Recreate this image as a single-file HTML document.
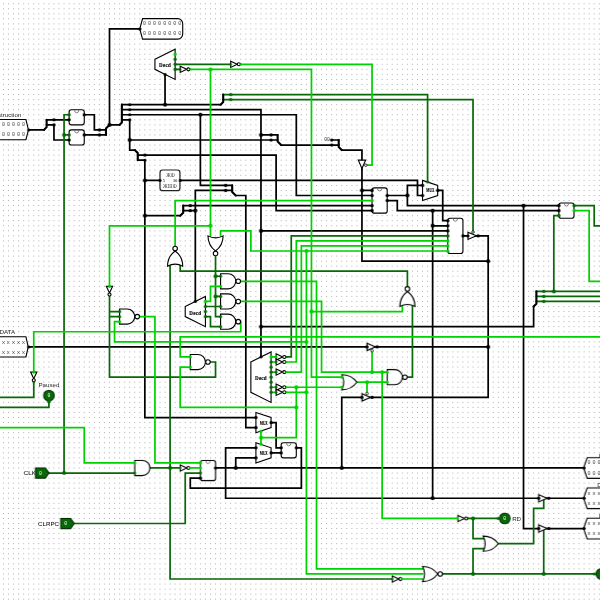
<!DOCTYPE html>
<html><head><meta charset="utf-8"><title>circuit</title>
<style>
html,body{margin:0;padding:0;background:#fff;}
body{width:600px;height:600px;overflow:hidden;font-family:"Liberation Sans",sans-serif;}
svg{display:block;}
.w{fill:none;stroke-linejoin:miter;stroke-linecap:square;}
</style></head><body>
<svg width="600" height="600" viewBox="0 0 600 600">
<rect width="600" height="600" fill="#fff"/>
<g stroke="#b0b0b0" stroke-width="1" stroke-dasharray="1 4.049" fill="none">
<path d="M2.97 3.75H600M2.97 8.8H600M2.97 13.84H600M2.97 18.89H600M2.97 23.93H600M2.97 28.98H600M2.97 34.03H600M2.97 39.07H600M2.97 44.12H600M2.97 49.16H600M2.97 54.21H600M2.97 59.26H600M2.97 64.3H600M2.97 69.35H600M2.97 74.39H600M2.97 79.44H600M2.97 84.49H600M2.97 89.53H600M2.97 94.58H600M2.97 99.62H600M2.97 104.67H600M2.97 109.72H600M2.97 114.76H600M2.97 119.81H600M2.97 124.85H600M2.97 129.9H600M2.97 134.95H600M2.97 139.99H600M2.97 145.04H600M2.97 150.08H600M2.97 155.13H600M2.97 160.18H600M2.97 165.22H600M2.97 170.27H600M2.97 175.31H600M2.97 180.36H600M2.97 185.41H600M2.97 190.45H600M2.97 195.5H600M2.97 200.54H600M2.97 205.59H600M2.97 210.64H600M2.97 215.68H600M2.97 220.73H600M2.97 225.77H600M2.97 230.82H600M2.97 235.87H600M2.97 240.91H600M2.97 245.96H600M2.97 251H600M2.97 256.05H600M2.97 261.1H600M2.97 266.14H600M2.97 271.19H600M2.97 276.23H600M2.97 281.28H600M2.97 286.33H600M2.97 291.37H600M2.97 296.42H600M2.97 301.46H600M2.97 306.51H600M2.97 311.56H600M2.97 316.6H600M2.97 321.65H600M2.97 326.69H600M2.97 331.74H600M2.97 336.79H600M2.97 341.83H600M2.97 346.88H600M2.97 351.92H600M2.97 356.97H600M2.97 362.02H600M2.97 367.06H600M2.97 372.11H600M2.97 377.15H600M2.97 382.2H600M2.97 387.25H600M2.97 392.29H600M2.97 397.34H600M2.97 402.38H600M2.97 407.43H600M2.97 412.48H600M2.97 417.52H600M2.97 422.57H600M2.97 427.61H600M2.97 432.66H600M2.97 437.71H600M2.97 442.75H600M2.97 447.8H600M2.97 452.84H600M2.97 457.89H600M2.97 462.94H600M2.97 467.98H600M2.97 473.03H600M2.97 478.07H600M2.97 483.12H600M2.97 488.17H600M2.97 493.21H600M2.97 498.26H600M2.97 503.3H600M2.97 508.35H600M2.97 513.4H600M2.97 518.44H600M2.97 523.49H600M2.97 528.53H600M2.97 533.58H600M2.97 538.63H600M2.97 543.67H600M2.97 548.72H600M2.97 553.76H600M2.97 558.81H600M2.97 563.86H600M2.97 568.9H600M2.97 573.95H600M2.97 578.99H600M2.97 584.04H600M2.97 589.09H600M2.97 594.13H600M2.97 599.18H600"/>
</g>
<g transform="translate(3.47 3.75) scale(5.049 5.046)">
<path class="w" stroke="#000" stroke-width="0.34" d="M21 5 L27 5 M21 5 L21 24 M5 25 L8 25 M8.55 23 L10 23 M8.55 24 L10 24 M10 23 L13 23 M10 24 L10 27 L13 27 M16 22 L18 22 L18 25 L19 25 M16 26 L19 26 M20.3 25 L19 25 M20.3 26 L19 26 M21 24 L23 24 M23.45 20 L25 20 M23.45 21 L25 21 M23.45 22 L25 22 M23.45 23 L25 23 M25 20 L43 20 M32 14 L32 20 M25 21 L51 21 L51 70 M25 22 L58 22 L58 38 L73 38 M39 22 L39 36 L44 36 M25 23 L25 29 L26 29 M25 27 L53 27 M26.6 30 L28 30 M26.6 31 L28 31 M28 30 L54 30 L54 41 L73 41 M28 31 L28 82 L50 82 M28 35 L31 35 M35 35 L82 35 L82 38 L83 38 M28 42 L35 42 M35.6 40 L37 40 M35.6 41 L37 41 M37 41 L38 41 M37 40 L73 40 M44 37 L38 37 L38 59 M45.3 36 L44 36 M45.3 37 L44 37 M46 38 L48 38 L48 84 L50 84 M51 26 L53 26 M54.3 26 L53 26 M54.3 27 L53 27 M55 28 L65 28 M66.4 27 L65 27 M66.4 28 L65 28 M67 29 L71 29 L71 31 M71 33 L71 51 L96 51 M71 37 L73 37 M5 68 L72 68 M74 68 L96 68 M94 46 L96 46 L96 78 L73 78 M53 83 L54 83 L54 88 L55 88 M53 89 L55 89 M58 88 L59 88 L59 96 L37 96 L37 94 L39 94 M50 88 L44 88 L44 98 L106 98 M50 90 L46 90 L46 92 M42 92 L115 92 M71 78 L67 78 L67 92 M76 38 L80 38 M83 36 L80 36 L80 40 L110 40 M76 39 L78 39 L78 41 L110 41 M86 37 L87 37 L87 43 L88 43 M85 41 L85 98 M85 44 L88 44 M51 45 L88 45 M91 46 L92 46 M103 40 L103 104 L106 104 M51 64 L105 64 L105 60 M108 98 L115 98 M108 104 L115 104"/>
<path class="w" stroke="#076a07" stroke-width="0.34" d="M13 22 L12 22 L12 93 M12 26 L13 26 M43.52 18 L45 18 M43.52 19 L45 19 M45 18 L84 18 L84 35.3 M45 19 L93 19 L93 45 M34 12 L45 12 M34 13 L35 13 M21 58 L21 74 L42 74 L42 71 L41 71 M21 61 L23 61 M21 62 L23 62 M33 52 L33 114 L77 114 M35 52 L35 53 L80 53 L80 56 M42 50 L42 62 L43 62 M42 54 L43 54 M42 58 L43 58 M6 75 L6 78 L-2 78 M40 60 L43 60 M40 62 L41 62 L41 64 L43 64 M56 70 L57 70 L57 46 L88 46 M9 93 L26 93 M29 92 L35 92 M14 103 L36 103 L36 93 L39 93 M-2 80 L9 80 L9 79 M110 42 L109 42 L109 57 M113 40 L117 40 L117 44 L120 44 M105.55 57 L107 57 M105.55 58 L107 58 M105.55 59 L107 59 M107 57 L120 57 M107 58 L120 58 M107 59 L120 59 M81 60 L81 74 L80 74 M92 102 L98 102 M93 102 L93 106 L95 106 M95 108 L93 108 L93 113 M98 107 L105 107 L105 100 L107 100 L107 98.45 M107 104.45 L107 113 M87 113 L117 113"/>
<path class="w" stroke="#00d200" stroke-width="0.34" d="M47 12 L73 12 L73 32 L72 32 M37 13 L61 13 L61 74 L67 74 M41 13 L41 46 M41 44 L21 44 L21 56 M23 63 L22 63 L22 67 L60 67 M27 62 L30 62 L30 91 L39 91 M34 48 L34 39 L73 39 M43 46 L43 45 L49 45 L49 49 L88 49 M60 49 L60 113 L83 113 M47 55 L62 55 L62 112 L83 112 M47 59 L63 59 L63 73 L76 73 M47 63 L47 65 L6 65 L6 73 M40 59 L41 59 L41 56 L43 56 M37 70 L35 70 L35 66 L120 66 M37 72 L35 72 L35 80 L58 80 M73 69 L73 73 M75 73 L75 102 L90 102 M70 75 L76 75 M72 75 L72 77 M53 70 L54 70 M53 71 L54 71 M53 73 L54 73 M53 76 L54 76 M53 77 L54 77 M56 71 L58 71 L58 47 L88 47 M56 73 L59 73 L59 48 L88 48 M56 76 L67 76 M58 76 L58 86 L51 86 M51 84.7 L51 87.3 M56 77 L60 77 M-2 84 L16 84 L16 91 L26 91 M37 92 L39 92 M113 41 L116 41 L116 55 L120 55 M79 60 L79 61 L61 61 M79 114 L83 114"/>
<path class="w" stroke="#000" stroke-width="0.42" style="stroke-linecap:round;stroke-linejoin:round" d="M8 25 L8.55 24.45 L8.55 23 M21 24 L20.3 24.7 L20.3 26 M23 24 L23.45 23.55 L23.45 20 M43 20 L43.52 19.48 L43.52 18 M26 29 L26.6 29.6 L26.6 31 M35 42 L35.6 41.4 L35.6 40 M46 38 L45.3 37.3 L45.3 36 M55 28 L54.3 27.3 L54.3 26 M67 29 L66.4 28.4 L66.4 27 M105 60 L105.55 59.45 L105.55 57"/>
<g style="will-change:opacity" opacity="0.999">
<text x="6.42" y="93.43" font-size="1.23" text-anchor="end" fill="#000" font-family="'Liberation Sans'">CLK</text>
<text x="11" y="103.43" font-size="1.23" text-anchor="end" fill="#000" font-family="'Liberation Sans'">CLRPC</text>
</g>
<g>
<path d="M27 5 L27.55 2.95 L34.5 2.95 A1 1 0 0 1 35.5 3.95 L35.5 6 A1 1 0 0 1 34.5 7 L27.55 7 Z" stroke="#000" fill="#fff" stroke-width="0.22" />
<path d="M-4 22.95 L4.45 22.95 L4.95 25 L4.45 26.95 L-4 26.95" stroke="#000" fill="#fff" stroke-width="0.22" />
<path d="M-4 66 L4.45 66 L4.9 68 L4.45 70 L-4 70" stroke="#000" fill="#fff" stroke-width="0.22" />
<rect x="13" y="21" width="3" height="3" rx="0.45" ry="0.45" stroke="#000" fill="#fff" stroke-width="0.22"/>
<path d="M14.08 21.1 A0.42 0.5 0 0 0 14.92 21.1" stroke="#666" fill="none" stroke-width="0.16"/>
<rect x="13" y="25" width="3" height="3" rx="0.45" ry="0.45" stroke="#000" fill="#fff" stroke-width="0.22"/>
<path d="M14.08 25.1 A0.42 0.5 0 0 0 14.92 25.1" stroke="#666" fill="none" stroke-width="0.16"/>
<path d="M30 11 L34 9 L34 15 L30 13 Z" stroke="#000" fill="#fff" stroke-width="0.22" />
<g transform="translate(47 12) rotate(0)"><path d="M-2 -0.62 L-0.7 0 L-2 0.62 Z" stroke="#000" fill="#fff" stroke-width="0.22"/><circle cx="-0.38" cy="0" r="0.3" stroke="#000" fill="#fff" stroke-width="0.22"/></g>
<g transform="translate(37 13) rotate(0)"><path d="M-2 -0.62 L-0.7 0 L-2 0.62 Z" stroke="#000" fill="#fff" stroke-width="0.22"/><circle cx="-0.38" cy="0" r="0.3" stroke="#000" fill="#fff" stroke-width="0.22"/></g>
<rect x="31" y="32.95" width="3.95" height="4.1" rx="0.55" ry="0.55" stroke="#222" fill="#fff" stroke-width="0.24"/>
<g transform="translate(71 33) rotate(90)"><path d="M-0.6 0 L0 0" stroke="#000" stroke-width="0.34" fill="none"/><path d="M-2 -0.72 L-0.35 0 L-2 0.72 Z" stroke="#000" fill="#fff" stroke-width="0.22"/><circle cx="-1" cy="-0.76" r="0.25" stroke="#000" fill="#fff" stroke-width="0.16"/></g>
<rect x="73" y="36.5" width="3" height="5" rx="0.45" ry="0.45" stroke="#000" fill="#fff" stroke-width="0.22"/>
<path d="M74.08 36.6 A0.42 0.5 0 0 0 74.92 36.6" stroke="#666" fill="none" stroke-width="0.16"/>
<path d="M83 35 L86 36 L86 38 L83 39 Z" stroke="#000" fill="#fff" stroke-width="0.22" />
<rect x="88" y="42.5" width="3" height="7" rx="0.45" ry="0.45" stroke="#000" fill="#fff" stroke-width="0.22"/>
<path d="M89.08 42.6 A0.42 0.5 0 0 0 89.92 42.6" stroke="#666" fill="none" stroke-width="0.16"/>
<g transform="translate(94 46) rotate(0)"><path d="M-0.6 0 L0 0" stroke="#000" stroke-width="0.34" fill="none"/><path d="M-2 -0.72 L-0.35 0 L-2 0.72 Z" stroke="#000" fill="#fff" stroke-width="0.22"/><circle cx="-1" cy="-0.76" r="0.25" stroke="#000" fill="#fff" stroke-width="0.16"/></g>
<rect x="110" y="39.5" width="3" height="3" rx="0.45" ry="0.45" stroke="#000" fill="#fff" stroke-width="0.22"/>
<path d="M111.08 39.6 A0.42 0.5 0 0 0 111.92 39.6" stroke="#666" fill="none" stroke-width="0.16"/>
<g transform="translate(21 58) rotate(90)"><path d="M-2 -0.62 L-0.7 0 L-2 0.62 Z" stroke="#000" fill="#fff" stroke-width="0.22"/><circle cx="-0.38" cy="0" r="0.3" stroke="#000" fill="#fff" stroke-width="0.22"/></g>
<g transform="translate(27 62) rotate(0)"><path d="M-4 -1.5 L-2.5 -1.5 A1.5 1.5 0 0 1 -2.5 1.5 L-4 1.5 Z" stroke="#000" fill="#fff" stroke-width="0.22"/><circle cx="-0.5" cy="0" r="0.45" stroke="#000" fill="#fff" stroke-width="0.22"/></g>
<g transform="translate(34 48) rotate(270)"><path d="M-4 -1.5 Q-2.1 -1.5 -1 0 Q-2.1 1.5 -4 1.5 Q-3.2 0 -4 -1.5 Z" stroke="#000" fill="#fff" stroke-width="0.22"/><circle cx="-0.5" cy="0" r="0.45" stroke="#000" fill="#fff" stroke-width="0.22"/></g>
<g transform="translate(42 50) rotate(90)"><path d="M-4 -1.5 Q-2.1 -1.5 -1 0 Q-2.1 1.5 -4 1.5 Q-3.2 0 -4 -1.5 Z" stroke="#000" fill="#fff" stroke-width="0.22"/><circle cx="-0.5" cy="0" r="0.45" stroke="#000" fill="#fff" stroke-width="0.22"/></g>
<g transform="translate(47 55) rotate(0)"><path d="M-4 -1.5 L-2.5 -1.5 A1.5 1.5 0 0 1 -2.5 1.5 L-4 1.5 Z" stroke="#000" fill="#fff" stroke-width="0.22"/><circle cx="-0.5" cy="0" r="0.45" stroke="#000" fill="#fff" stroke-width="0.22"/></g>
<g transform="translate(47 59) rotate(0)"><path d="M-4 -1.5 L-2.5 -1.5 A1.5 1.5 0 0 1 -2.5 1.5 L-4 1.5 Z" stroke="#000" fill="#fff" stroke-width="0.22"/><circle cx="-0.5" cy="0" r="0.45" stroke="#000" fill="#fff" stroke-width="0.22"/></g>
<g transform="translate(47 63) rotate(0)"><path d="M-4 -1.5 L-2.5 -1.5 A1.5 1.5 0 0 1 -2.5 1.5 L-4 1.5 Z" stroke="#000" fill="#fff" stroke-width="0.22"/><circle cx="-0.5" cy="0" r="0.45" stroke="#000" fill="#fff" stroke-width="0.22"/></g>
<path d="M36 60 L40 58 L40 64 L36 62 Z" stroke="#000" fill="#fff" stroke-width="0.22" />
<g transform="translate(41 71) rotate(0)"><path d="M-4 -1.5 L-2.5 -1.5 A1.5 1.5 0 0 1 -2.5 1.5 L-4 1.5 Z" stroke="#000" fill="#fff" stroke-width="0.22"/><circle cx="-0.5" cy="0" r="0.45" stroke="#000" fill="#fff" stroke-width="0.22"/></g>
<g transform="translate(6 75) rotate(90)"><path d="M-2 -0.62 L-0.7 0 L-2 0.62 Z" stroke="#000" fill="#fff" stroke-width="0.22"/><circle cx="-0.38" cy="0" r="0.3" stroke="#000" fill="#fff" stroke-width="0.22"/></g>
<path d="M49 71 L53 69 L53 79 L49 77 Z" stroke="#000" fill="#fff" stroke-width="0.22" />
<g transform="translate(56 70) rotate(0)"><path d="M-2 -0.62 L-0.7 0 L-2 0.62 Z" stroke="#000" fill="#fff" stroke-width="0.22"/><circle cx="-0.38" cy="0" r="0.3" stroke="#000" fill="#fff" stroke-width="0.22"/></g>
<g transform="translate(56 71) rotate(0)"><path d="M-2 -0.62 L-0.7 0 L-2 0.62 Z" stroke="#000" fill="#fff" stroke-width="0.22"/><circle cx="-0.38" cy="0" r="0.3" stroke="#000" fill="#fff" stroke-width="0.22"/></g>
<g transform="translate(56 73) rotate(0)"><path d="M-2 -0.62 L-0.7 0 L-2 0.62 Z" stroke="#000" fill="#fff" stroke-width="0.22"/><circle cx="-0.38" cy="0" r="0.3" stroke="#000" fill="#fff" stroke-width="0.22"/></g>
<g transform="translate(56 76) rotate(0)"><path d="M-2 -0.62 L-0.7 0 L-2 0.62 Z" stroke="#000" fill="#fff" stroke-width="0.22"/><circle cx="-0.38" cy="0" r="0.3" stroke="#000" fill="#fff" stroke-width="0.22"/></g>
<g transform="translate(56 77) rotate(0)"><path d="M-2 -0.62 L-0.7 0 L-2 0.62 Z" stroke="#000" fill="#fff" stroke-width="0.22"/><circle cx="-0.38" cy="0" r="0.3" stroke="#000" fill="#fff" stroke-width="0.22"/></g>
<path d="M50 81 L53 82 L53 84 L50 85 Z" stroke="#000" fill="#fff" stroke-width="0.22" />
<path d="M50 87 L53 88 L53 90 L50 91 Z" stroke="#000" fill="#fff" stroke-width="0.22" />
<rect x="55" y="87" width="3" height="3" rx="0.45" ry="0.45" stroke="#000" fill="#fff" stroke-width="0.22"/>
<path d="M56.08 87.1 A0.42 0.5 0 0 0 56.92 87.1" stroke="#666" fill="none" stroke-width="0.16"/>
<g transform="translate(29 92) rotate(0)"><path d="M-3 -1.5 L-1.5 -1.5 A1.5 1.5 0 0 1 -1.5 1.5 L-3 1.5 Z" stroke="#000" fill="#fff" stroke-width="0.22"/></g>
<g transform="translate(37 92) rotate(0)"><path d="M-2 -0.62 L-0.7 0 L-2 0.62 Z" stroke="#000" fill="#fff" stroke-width="0.22"/><circle cx="-0.38" cy="0" r="0.3" stroke="#000" fill="#fff" stroke-width="0.22"/></g>
<rect x="39" y="90.5" width="3" height="4" rx="0.45" ry="0.45" stroke="#000" fill="#fff" stroke-width="0.22"/>
<path d="M40.08 90.6 A0.42 0.5 0 0 0 40.92 90.6" stroke="#666" fill="none" stroke-width="0.16"/>
<g transform="translate(74 68) rotate(0)"><path d="M-0.6 0 L0 0" stroke="#000" stroke-width="0.34" fill="none"/><path d="M-2 -0.72 L-0.35 0 L-2 0.72 Z" stroke="#000" fill="#fff" stroke-width="0.22"/><circle cx="-1" cy="0.76" r="0.25" stroke="#000" fill="#fff" stroke-width="0.16"/></g>
<g transform="translate(73 78) rotate(0)"><path d="M-0.6 0 L0 0" stroke="#000" stroke-width="0.34" fill="none"/><path d="M-2 -0.72 L-0.35 0 L-2 0.72 Z" stroke="#000" fill="#fff" stroke-width="0.22"/><circle cx="-1" cy="-0.76" r="0.25" stroke="#000" fill="#fff" stroke-width="0.16"/></g>
<g transform="translate(70 75) rotate(0)"><path d="M-3 -1.5 Q-1.1 -1.5 0 0 Q-1.1 1.5 -3 1.5 Q-2.2 0 -3 -1.5 Z" stroke="#000" fill="#fff" stroke-width="0.22"/></g>
<g transform="translate(80 74) rotate(0)"><path d="M-4 -1.5 L-2.5 -1.5 A1.5 1.5 0 0 1 -2.5 1.5 L-4 1.5 Z" stroke="#000" fill="#fff" stroke-width="0.22"/><circle cx="-0.5" cy="0" r="0.45" stroke="#000" fill="#fff" stroke-width="0.22"/></g>
<g transform="translate(80 56) rotate(270)"><path d="M-4 -1.5 Q-2.1 -1.5 -1 0 Q-2.1 1.5 -4 1.5 Q-3.2 0 -4 -1.5 Z" stroke="#000" fill="#fff" stroke-width="0.22"/><circle cx="-0.5" cy="0" r="0.45" stroke="#000" fill="#fff" stroke-width="0.22"/></g>
<g transform="translate(92 102) rotate(0)"><path d="M-2 -0.62 L-0.7 0 L-2 0.62 Z" stroke="#000" fill="#fff" stroke-width="0.22"/><circle cx="-0.38" cy="0" r="0.3" stroke="#000" fill="#fff" stroke-width="0.22"/></g>
<g transform="translate(98 107) rotate(0)"><path d="M-3 -1.5 Q-1.1 -1.5 0 0 Q-1.1 1.5 -3 1.5 Q-2.2 0 -3 -1.5 Z" stroke="#000" fill="#fff" stroke-width="0.22"/></g>
<g transform="translate(87 113) rotate(0)"><path d="M-4 -1.5 Q-2.1 -1.5 -1 0 Q-2.1 1.5 -4 1.5 Q-3.2 0 -4 -1.5 Z" stroke="#000" fill="#fff" stroke-width="0.22"/><circle cx="-0.5" cy="0" r="0.45" stroke="#000" fill="#fff" stroke-width="0.22"/></g>
<g transform="translate(79 114) rotate(0)"><path d="M-2 -0.62 L-0.7 0 L-2 0.62 Z" stroke="#000" fill="#fff" stroke-width="0.22"/><circle cx="-0.38" cy="0" r="0.3" stroke="#000" fill="#fff" stroke-width="0.22"/></g>
<g transform="translate(108 98) rotate(0)"><path d="M-0.6 0 L0 0" stroke="#000" stroke-width="0.34" fill="none"/><path d="M-2 -0.72 L-0.35 0 L-2 0.72 Z" stroke="#000" fill="#fff" stroke-width="0.22"/></g>
<g transform="translate(108 104) rotate(0)"><path d="M-0.6 0 L0 0" stroke="#000" stroke-width="0.34" fill="none"/><path d="M-2 -0.72 L-0.35 0 L-2 0.72 Z" stroke="#000" fill="#fff" stroke-width="0.22"/></g>
<path d="M121 89.95 L115.6 89.95 L114.9 92 L115.6 94.05 L121 94.05" stroke="#000" fill="#fff" stroke-width="0.22" />
<path d="M121 95.95 L115.6 95.95 L114.9 98 L115.6 100.05 L121 100.05" stroke="#000" fill="#fff" stroke-width="0.22" />
<path d="M121 101.95 L115.6 101.95 L114.9 104 L115.6 106.05 L121 106.05" stroke="#000" fill="#fff" stroke-width="0.22" />
<rect x="7.96" y="76.61" width="2.08" height="2.08" rx="0.98" ry="0.98" fill="#076a07" stroke="#002800" stroke-width="0.2"/>
<rect x="98.24" y="100.96" width="2.08" height="2.08" rx="0.98" ry="0.98" fill="#076a07" stroke="#002800" stroke-width="0.2"/>
<rect x="117.38" y="111.96" width="2.08" height="2.08" rx="0.98" ry="0.98" fill="#076a07" stroke="#002800" stroke-width="0.2"/>
<path d="M6.35 92 L8.3 92 L9 93 L8.3 94 L6.35 94 Z" stroke="#002800" fill="#076a07" stroke-width="0.22" />
<path d="M11.35 102 L13.3 102 L14 103 L13.3 104 L11.35 104 Z" stroke="#002800" fill="#076a07" stroke-width="0.22" />
</g>
<g>
<circle cx="12" cy="26" r="0.4" fill="#076a07"/>
<circle cx="19" cy="25" r="0.33" fill="#000"/>
<circle cx="19" cy="26" r="0.33" fill="#000"/>
<circle cx="10" cy="23" r="0.33" fill="#000"/>
<circle cx="10" cy="24" r="0.33" fill="#000"/>
<circle cx="28" cy="30" r="0.33" fill="#000"/>
<circle cx="21" cy="24" r="0.4" fill="#000"/>
<circle cx="25" cy="20" r="0.3" fill="#000"/>
<circle cx="25" cy="21" r="0.3" fill="#000"/>
<circle cx="25" cy="22" r="0.3" fill="#000"/>
<circle cx="25" cy="23" r="0.3" fill="#000"/>
<circle cx="32" cy="20" r="0.4" fill="#000"/>
<circle cx="45" cy="18" r="0.33" fill="#076a07"/>
<circle cx="45" cy="19" r="0.33" fill="#076a07"/>
<circle cx="51" cy="26" r="0.4" fill="#000"/>
<circle cx="51" cy="45" r="0.4" fill="#000"/>
<circle cx="51" cy="64" r="0.4" fill="#000"/>
<circle cx="39" cy="22" r="0.4" fill="#000"/>
<circle cx="25" cy="27" r="0.4" fill="#000"/>
<circle cx="28" cy="31" r="0.3" fill="#000"/>
<circle cx="28" cy="35" r="0.4" fill="#000"/>
<circle cx="28" cy="42" r="0.4" fill="#000"/>
<circle cx="37" cy="40" r="0.33" fill="#000"/>
<circle cx="37" cy="41" r="0.33" fill="#000"/>
<circle cx="38" cy="41" r="0.4" fill="#000"/>
<circle cx="44" cy="36" r="0.33" fill="#000"/>
<circle cx="44" cy="37" r="0.33" fill="#000"/>
<circle cx="53" cy="26" r="0.33" fill="#000"/>
<circle cx="53" cy="27" r="0.33" fill="#000"/>
<circle cx="65" cy="27" r="0.33" fill="#000"/>
<circle cx="65" cy="28" r="0.33" fill="#000"/>
<circle cx="71" cy="37" r="0.4" fill="#000"/>
<circle cx="41" cy="13" r="0.4" fill="#00d200"/>
<circle cx="41" cy="44" r="0.4" fill="#00d200"/>
<circle cx="61" cy="61" r="0.4" fill="#00d200"/>
<circle cx="33" cy="92" r="0.4" fill="#076a07"/>
<circle cx="60" cy="49" r="0.4" fill="#00d200"/>
<circle cx="60" cy="67" r="0.4" fill="#00d200"/>
<circle cx="60" cy="77" r="0.4" fill="#00d200"/>
<circle cx="42" cy="54" r="0.4" fill="#076a07"/>
<circle cx="42" cy="58" r="0.4" fill="#076a07"/>
<circle cx="73" cy="73" r="0.4" fill="#00d200"/>
<circle cx="75" cy="73" r="0.4" fill="#00d200"/>
<circle cx="96" cy="51" r="0.4" fill="#000"/>
<circle cx="96" cy="68" r="0.4" fill="#000"/>
<circle cx="72" cy="75" r="0.4" fill="#00d200"/>
<circle cx="58" cy="76" r="0.4" fill="#00d200"/>
<circle cx="58" cy="80" r="0.4" fill="#00d200"/>
<circle cx="51" cy="86" r="0.4" fill="#00d200"/>
<circle cx="85" cy="98" r="0.4" fill="#000"/>
<circle cx="46" cy="92" r="0.4" fill="#000"/>
<circle cx="67" cy="92" r="0.4" fill="#000"/>
<circle cx="12" cy="93" r="0.4" fill="#076a07"/>
<circle cx="80" cy="38" r="0.4" fill="#000"/>
<circle cx="103" cy="40" r="0.4" fill="#000"/>
<circle cx="85" cy="41" r="0.4" fill="#000"/>
<circle cx="85" cy="44" r="0.4" fill="#000"/>
<circle cx="109" cy="57" r="0.4" fill="#076a07"/>
<circle cx="107" cy="57" r="0.33" fill="#076a07"/>
<circle cx="107" cy="58" r="0.33" fill="#076a07"/>
<circle cx="107" cy="59" r="0.33" fill="#076a07"/>
<circle cx="93" cy="102" r="0.4" fill="#076a07"/>
<circle cx="93" cy="113" r="0.4" fill="#076a07"/>
<circle cx="107" cy="113" r="0.4" fill="#076a07"/>
<circle cx="27" cy="5" r="0.32" fill="#000"/>
<circle cx="5" cy="25" r="0.3" fill="#000"/>
<circle cx="5" cy="68" r="0.3" fill="#000"/>
<circle cx="13" cy="22" r="0.33" fill="#076a07"/>
<circle cx="13" cy="23" r="0.33" fill="#000"/>
<circle cx="13" cy="26" r="0.33" fill="#076a07"/>
<circle cx="13" cy="27" r="0.33" fill="#000"/>
<circle cx="16" cy="22" r="0.33" fill="#000"/>
<circle cx="16" cy="26" r="0.33" fill="#000"/>
<circle cx="34" cy="10" r="0.33" fill="#00d200"/>
<circle cx="34" cy="11" r="0.33" fill="#076a07"/>
<circle cx="34" cy="12" r="0.33" fill="#076a07"/>
<circle cx="34" cy="13" r="0.33" fill="#076a07"/>
<circle cx="32" cy="14" r="0.3" fill="#000"/>
<circle cx="31" cy="35" r="0.3" fill="#000"/>
<circle cx="35" cy="35" r="0.3" fill="#000"/>
<circle cx="73" cy="37" r="0.33" fill="#000"/>
<circle cx="73" cy="38" r="0.33" fill="#000"/>
<circle cx="73" cy="39" r="0.33" fill="#00d200"/>
<circle cx="73" cy="40" r="0.33" fill="#000"/>
<circle cx="73" cy="41" r="0.33" fill="#000"/>
<circle cx="76" cy="38" r="0.33" fill="#000"/>
<circle cx="76" cy="39" r="0.33" fill="#000"/>
<circle cx="83" cy="36" r="0.33" fill="#000"/>
<circle cx="83" cy="38" r="0.33" fill="#000"/>
<circle cx="86" cy="37" r="0.33" fill="#000"/>
<circle cx="84" cy="35.3" r="0.3" fill="#076a07"/>
<circle cx="88" cy="43" r="0.33" fill="#000"/>
<circle cx="88" cy="44" r="0.33" fill="#000"/>
<circle cx="88" cy="45" r="0.33" fill="#000"/>
<circle cx="88" cy="46" r="0.33" fill="#076a07"/>
<circle cx="88" cy="47" r="0.33" fill="#00d200"/>
<circle cx="88" cy="48" r="0.33" fill="#00d200"/>
<circle cx="88" cy="49" r="0.33" fill="#00d200"/>
<circle cx="91" cy="46" r="0.33" fill="#000"/>
<circle cx="94" cy="46" r="0.33" fill="#000"/>
<circle cx="92" cy="46" r="0.3" fill="#000"/>
<circle cx="110" cy="40" r="0.33" fill="#000"/>
<circle cx="110" cy="41" r="0.33" fill="#000"/>
<circle cx="110" cy="42" r="0.33" fill="#076a07"/>
<circle cx="113" cy="40" r="0.33" fill="#076a07"/>
<circle cx="113" cy="41" r="0.33" fill="#00d200"/>
<circle cx="21" cy="56" r="0.3" fill="#00d200"/>
<circle cx="23" cy="61" r="0.3" fill="#076a07"/>
<circle cx="23" cy="62" r="0.3" fill="#076a07"/>
<circle cx="23" cy="63" r="0.3" fill="#00d200"/>
<circle cx="43" cy="54" r="0.3" fill="#076a07"/>
<circle cx="43" cy="56" r="0.3" fill="#00d200"/>
<circle cx="43" cy="58" r="0.3" fill="#076a07"/>
<circle cx="43" cy="60" r="0.3" fill="#076a07"/>
<circle cx="43" cy="62" r="0.3" fill="#076a07"/>
<circle cx="43" cy="64" r="0.3" fill="#076a07"/>
<circle cx="40" cy="59" r="0.33" fill="#00d200"/>
<circle cx="40" cy="60" r="0.33" fill="#076a07"/>
<circle cx="40" cy="61" r="0.33" fill="#076a07"/>
<circle cx="40" cy="62" r="0.33" fill="#076a07"/>
<circle cx="38" cy="59" r="0.3" fill="#000"/>
<circle cx="37" cy="70" r="0.3" fill="#00d200"/>
<circle cx="37" cy="72" r="0.3" fill="#00d200"/>
<circle cx="6" cy="73" r="0.3" fill="#00d200"/>
<circle cx="6" cy="75" r="0.22" fill="#076a07"/>
<circle cx="53" cy="70" r="0.33" fill="#00d200"/>
<circle cx="53" cy="71" r="0.33" fill="#076a07"/>
<circle cx="53" cy="72" r="0.33" fill="#076a07"/>
<circle cx="53" cy="73" r="0.33" fill="#076a07"/>
<circle cx="53" cy="74" r="0.33" fill="#076a07"/>
<circle cx="53" cy="75" r="0.33" fill="#076a07"/>
<circle cx="53" cy="76" r="0.33" fill="#076a07"/>
<circle cx="53" cy="77" r="0.33" fill="#076a07"/>
<circle cx="51" cy="70" r="0.3" fill="#000"/>
<circle cx="50" cy="82" r="0.33" fill="#000"/>
<circle cx="50" cy="84" r="0.33" fill="#000"/>
<circle cx="53" cy="83" r="0.33" fill="#000"/>
<circle cx="50" cy="88" r="0.33" fill="#000"/>
<circle cx="50" cy="90" r="0.33" fill="#000"/>
<circle cx="53" cy="89" r="0.33" fill="#000"/>
<circle cx="51" cy="84.7" r="0.3" fill="#00d200"/>
<circle cx="51" cy="87.3" r="0.3" fill="#00d200"/>
<circle cx="55" cy="88" r="0.33" fill="#000"/>
<circle cx="55" cy="89" r="0.33" fill="#000"/>
<circle cx="58" cy="88" r="0.33" fill="#000"/>
<circle cx="26" cy="91" r="0.3" fill="#00d200"/>
<circle cx="26" cy="93" r="0.3" fill="#076a07"/>
<circle cx="39" cy="91" r="0.33" fill="#00d200"/>
<circle cx="39" cy="92" r="0.33" fill="#00d200"/>
<circle cx="39" cy="93" r="0.33" fill="#076a07"/>
<circle cx="39" cy="94" r="0.33" fill="#000"/>
<circle cx="42" cy="92" r="0.33" fill="#000"/>
<circle cx="72" cy="68" r="0.33" fill="#000"/>
<circle cx="74" cy="68" r="0.33" fill="#000"/>
<circle cx="71" cy="78" r="0.33" fill="#000"/>
<circle cx="73" cy="78" r="0.33" fill="#000"/>
<circle cx="67" cy="74" r="0.3" fill="#00d200"/>
<circle cx="67" cy="76" r="0.3" fill="#00d200"/>
<circle cx="76" cy="73" r="0.3" fill="#00d200"/>
<circle cx="76" cy="75" r="0.3" fill="#00d200"/>
<circle cx="106" cy="98" r="0.33" fill="#000"/>
<circle cx="108" cy="98" r="0.33" fill="#000"/>
<circle cx="106" cy="104" r="0.33" fill="#000"/>
<circle cx="108" cy="104" r="0.33" fill="#000"/>
<circle cx="45" cy="12" r="0.24" fill="#076a07"/>
<circle cx="47" cy="12" r="0.22" fill="#00d200"/>
<circle cx="35" cy="13" r="0.24" fill="#076a07"/>
<circle cx="37" cy="13" r="0.22" fill="#00d200"/>
<circle cx="35" cy="92" r="0.24" fill="#076a07"/>
<circle cx="37" cy="92" r="0.22" fill="#00d200"/>
<circle cx="90" cy="102" r="0.24" fill="#00d200"/>
<circle cx="92" cy="102" r="0.22" fill="#076a07"/>
<circle cx="77" cy="114" r="0.24" fill="#076a07"/>
<circle cx="79" cy="114" r="0.22" fill="#00d200"/>
<circle cx="54" cy="70" r="0.24" fill="#00d200"/>
<circle cx="56" cy="70" r="0.22" fill="#076a07"/>
<circle cx="54" cy="71" r="0.24" fill="#076a07"/>
<circle cx="56" cy="71" r="0.22" fill="#00d200"/>
<circle cx="54" cy="73" r="0.24" fill="#076a07"/>
<circle cx="56" cy="73" r="0.22" fill="#00d200"/>
<circle cx="54" cy="76" r="0.24" fill="#076a07"/>
<circle cx="56" cy="76" r="0.22" fill="#00d200"/>
<circle cx="54" cy="77" r="0.24" fill="#076a07"/>
<circle cx="56" cy="77" r="0.22" fill="#00d200"/>
<circle cx="115" cy="92" r="0.32" fill="#000"/>
<circle cx="115" cy="98" r="0.32" fill="#000"/>
<circle cx="115" cy="104" r="0.32" fill="#000"/>
<circle cx="9" cy="78.8" r="0.4" fill="#076a07"/>
<circle cx="98" cy="102" r="0.3" fill="#076a07"/>
<circle cx="117" cy="113" r="0.3" fill="#076a07"/>
</g>
<g style="will-change:opacity" opacity="0.999">
<text x="27.95" y="4.2" font-size="1" text-anchor="middle" fill="#444" font-family="'Liberation Mono'" font-weight="normal" >0</text>
<text x="28.95" y="4.2" font-size="1" text-anchor="middle" fill="#444" font-family="'Liberation Mono'" font-weight="normal" >0</text>
<text x="29.94" y="4.2" font-size="1" text-anchor="middle" fill="#444" font-family="'Liberation Mono'" font-weight="normal" >0</text>
<text x="30.93" y="4.2" font-size="1" text-anchor="middle" fill="#444" font-family="'Liberation Mono'" font-weight="normal" >0</text>
<text x="31.93" y="4.2" font-size="1" text-anchor="middle" fill="#444" font-family="'Liberation Mono'" font-weight="normal" >0</text>
<text x="32.92" y="4.2" font-size="1" text-anchor="middle" fill="#444" font-family="'Liberation Mono'" font-weight="normal" >0</text>
<text x="33.92" y="4.2" font-size="1" text-anchor="middle" fill="#444" font-family="'Liberation Mono'" font-weight="normal" >0</text>
<text x="34.91" y="4.2" font-size="1" text-anchor="middle" fill="#444" font-family="'Liberation Mono'" font-weight="normal" >0</text>
<text x="27.95" y="6.28" font-size="1" text-anchor="middle" fill="#444" font-family="'Liberation Mono'" font-weight="normal" >0</text>
<text x="28.95" y="6.28" font-size="1" text-anchor="middle" fill="#444" font-family="'Liberation Mono'" font-weight="normal" >0</text>
<text x="29.94" y="6.28" font-size="1" text-anchor="middle" fill="#444" font-family="'Liberation Mono'" font-weight="normal" >0</text>
<text x="30.93" y="6.28" font-size="1" text-anchor="middle" fill="#444" font-family="'Liberation Mono'" font-weight="normal" >0</text>
<text x="31.93" y="6.28" font-size="1" text-anchor="middle" fill="#444" font-family="'Liberation Mono'" font-weight="normal" >0</text>
<text x="32.92" y="6.28" font-size="1" text-anchor="middle" fill="#444" font-family="'Liberation Mono'" font-weight="normal" >0</text>
<text x="33.92" y="6.28" font-size="1" text-anchor="middle" fill="#444" font-family="'Liberation Mono'" font-weight="normal" >0</text>
<text x="34.91" y="6.28" font-size="1" text-anchor="middle" fill="#444" font-family="'Liberation Mono'" font-weight="normal" >0</text>
<text x="0" y="24.22" font-size="1" text-anchor="middle" fill="#444" font-family="'Liberation Mono'" font-weight="normal" >0</text>
<text x="0.99" y="24.22" font-size="1" text-anchor="middle" fill="#444" font-family="'Liberation Mono'" font-weight="normal" >0</text>
<text x="1.99" y="24.22" font-size="1" text-anchor="middle" fill="#444" font-family="'Liberation Mono'" font-weight="normal" >0</text>
<text x="2.98" y="24.22" font-size="1" text-anchor="middle" fill="#444" font-family="'Liberation Mono'" font-weight="normal" >0</text>
<text x="3.98" y="24.22" font-size="1" text-anchor="middle" fill="#444" font-family="'Liberation Mono'" font-weight="normal" >0</text>
<text x="0" y="26.27" font-size="1" text-anchor="middle" fill="#444" font-family="'Liberation Mono'" font-weight="normal" >0</text>
<text x="0.99" y="26.27" font-size="1" text-anchor="middle" fill="#444" font-family="'Liberation Mono'" font-weight="normal" >0</text>
<text x="1.99" y="26.27" font-size="1" text-anchor="middle" fill="#444" font-family="'Liberation Mono'" font-weight="normal" >0</text>
<text x="2.98" y="26.27" font-size="1" text-anchor="middle" fill="#444" font-family="'Liberation Mono'" font-weight="normal" >0</text>
<text x="3.98" y="26.27" font-size="1" text-anchor="middle" fill="#444" font-family="'Liberation Mono'" font-weight="normal" >0</text>
<text x="0.7" y="22.35" font-size="1.23" text-anchor="middle" fill="#2a2a2a" font-family="'Liberation Sans'" font-weight="normal" >Instruction</text>
<text x="-0.02" y="67.45" font-size="1.15" text-anchor="middle" fill="#444" font-family="'Liberation Mono'" font-weight="normal" >x</text>
<text x="0.97" y="67.45" font-size="1.15" text-anchor="middle" fill="#444" font-family="'Liberation Mono'" font-weight="normal" >x</text>
<text x="1.97" y="67.45" font-size="1.15" text-anchor="middle" fill="#444" font-family="'Liberation Mono'" font-weight="normal" >x</text>
<text x="2.96" y="67.45" font-size="1.15" text-anchor="middle" fill="#444" font-family="'Liberation Mono'" font-weight="normal" >x</text>
<text x="3.96" y="67.45" font-size="1.15" text-anchor="middle" fill="#444" font-family="'Liberation Mono'" font-weight="normal" >x</text>
<text x="-0.02" y="69.42" font-size="1.15" text-anchor="middle" fill="#444" font-family="'Liberation Mono'" font-weight="normal" >x</text>
<text x="0.97" y="69.42" font-size="1.15" text-anchor="middle" fill="#444" font-family="'Liberation Mono'" font-weight="normal" >x</text>
<text x="1.97" y="69.42" font-size="1.15" text-anchor="middle" fill="#444" font-family="'Liberation Mono'" font-weight="normal" >x</text>
<text x="2.96" y="69.42" font-size="1.15" text-anchor="middle" fill="#444" font-family="'Liberation Mono'" font-weight="normal" >x</text>
<text x="3.96" y="69.42" font-size="1.15" text-anchor="middle" fill="#444" font-family="'Liberation Mono'" font-weight="normal" >x</text>
<text x="0.75" y="65.5" font-size="1.23" text-anchor="middle" fill="#2a2a2a" font-family="'Liberation Sans'" font-weight="normal" >DATA</text>
<text x="32" y="12.45" font-size="1" text-anchor="middle" fill="#111" font-family="'Liberation Serif'" font-weight="bold" letter-spacing="0.05" stroke="#000" stroke-width="0.03">Decd</text>
<text x="33.08" y="34.4" font-size="1" text-anchor="middle" fill="#444" font-family="'Liberation Serif'" font-weight="normal" >&#1046;&#1060;</text>
<text x="31.75" y="35.33" font-size="0.85" text-anchor="middle" fill="#444" font-family="'Liberation Serif'" font-weight="bold" >5</text>
<text x="34" y="35.33" font-size="0.85" text-anchor="middle" fill="#444" font-family="'Liberation Serif'" font-weight="bold" >16</text>
<text x="32.95" y="36.45" font-size="1" text-anchor="middle" fill="#444" font-family="'Liberation Serif'" font-weight="normal" >&#1046;&#1064;&#1060;</text>
<text x="64.65" y="27.28" font-size="0.92" text-anchor="end" fill="#333" font-family="'Liberation Mono'" font-weight="normal" >00</text>
<text x="84.55" y="37.4" font-size="1" text-anchor="middle" fill="#000" font-family="'Liberation Serif'" font-weight="bold" textLength="1.6" lengthAdjust="spacingAndGlyphs" stroke="#000" stroke-width="0.03">MUX</text>
<text x="38" y="61.6" font-size="1" text-anchor="middle" fill="#111" font-family="'Liberation Serif'" font-weight="bold" letter-spacing="0.05" stroke="#000" stroke-width="0.03">Decd</text>
<text x="51" y="74.5" font-size="1" text-anchor="middle" fill="#111" font-family="'Liberation Serif'" font-weight="bold" letter-spacing="0.05" stroke="#000" stroke-width="0.03">Decd</text>
<text x="51.55" y="83.4" font-size="1" text-anchor="middle" fill="#000" font-family="'Liberation Serif'" font-weight="bold" textLength="1.6" lengthAdjust="spacingAndGlyphs" stroke="#000" stroke-width="0.03">MUX</text>
<text x="51.55" y="89.4" font-size="1" text-anchor="middle" fill="#000" font-family="'Liberation Serif'" font-weight="bold" textLength="1.6" lengthAdjust="spacingAndGlyphs" stroke="#000" stroke-width="0.03">MUX</text>
<text x="115.98" y="91.28" font-size="1" text-anchor="middle" fill="#444" font-family="'Liberation Mono'" font-weight="normal" >0</text>
<text x="116.98" y="91.28" font-size="1" text-anchor="middle" fill="#444" font-family="'Liberation Mono'" font-weight="normal" >0</text>
<text x="117.97" y="91.28" font-size="1" text-anchor="middle" fill="#444" font-family="'Liberation Mono'" font-weight="normal" >0</text>
<text x="115.98" y="93.35" font-size="1" text-anchor="middle" fill="#444" font-family="'Liberation Mono'" font-weight="normal" >0</text>
<text x="116.98" y="93.35" font-size="1" text-anchor="middle" fill="#444" font-family="'Liberation Mono'" font-weight="normal" >0</text>
<text x="117.97" y="93.35" font-size="1" text-anchor="middle" fill="#444" font-family="'Liberation Mono'" font-weight="normal" >0</text>
<text x="115.98" y="97.28" font-size="1.15" text-anchor="middle" fill="#444" font-family="'Liberation Mono'" font-weight="normal" >x</text>
<text x="116.98" y="97.28" font-size="1.15" text-anchor="middle" fill="#444" font-family="'Liberation Mono'" font-weight="normal" >x</text>
<text x="117.97" y="97.28" font-size="1.15" text-anchor="middle" fill="#444" font-family="'Liberation Mono'" font-weight="normal" >x</text>
<text x="115.98" y="99.35" font-size="1.15" text-anchor="middle" fill="#444" font-family="'Liberation Mono'" font-weight="normal" >x</text>
<text x="116.98" y="99.35" font-size="1.15" text-anchor="middle" fill="#444" font-family="'Liberation Mono'" font-weight="normal" >x</text>
<text x="117.97" y="99.35" font-size="1.15" text-anchor="middle" fill="#444" font-family="'Liberation Mono'" font-weight="normal" >x</text>
<text x="115.98" y="103.28" font-size="1.15" text-anchor="middle" fill="#444" font-family="'Liberation Mono'" font-weight="normal" >x</text>
<text x="116.98" y="103.28" font-size="1.15" text-anchor="middle" fill="#444" font-family="'Liberation Mono'" font-weight="normal" >x</text>
<text x="117.97" y="103.28" font-size="1.15" text-anchor="middle" fill="#444" font-family="'Liberation Mono'" font-weight="normal" >x</text>
<text x="115.98" y="105.35" font-size="1.15" text-anchor="middle" fill="#444" font-family="'Liberation Mono'" font-weight="normal" >x</text>
<text x="116.98" y="105.35" font-size="1.15" text-anchor="middle" fill="#444" font-family="'Liberation Mono'" font-weight="normal" >x</text>
<text x="117.97" y="105.35" font-size="1.15" text-anchor="middle" fill="#444" font-family="'Liberation Mono'" font-weight="normal" >x</text>
<text x="117.85" y="90" font-size="1.23" text-anchor="start" fill="#2a2a2a" font-family="'Liberation Sans'" font-weight="normal" >I</text>
<text x="117.6" y="95.75" font-size="1.23" text-anchor="start" fill="#2a2a2a" font-family="'Liberation Sans'" font-weight="normal" >D</text>
<text x="117.85" y="101.85" font-size="1.23" text-anchor="start" fill="#2a2a2a" font-family="'Liberation Sans'" font-weight="normal" >I</text>
<text x="9" y="77.99" font-size="0.95" text-anchor="middle" fill="#fff" font-family="'Liberation Mono'" font-weight="normal" >0</text>
<text x="9" y="76" font-size="1.23" text-anchor="middle" fill="#2a2a2a" font-family="'Liberation Sans'" font-weight="normal" >Paused</text>
<text x="99.28" y="102.34" font-size="0.95" text-anchor="middle" fill="#fff" font-family="'Liberation Mono'" font-weight="normal" >0</text>
<text x="100.75" y="102.45" font-size="1.23" text-anchor="start" fill="#2a2a2a" font-family="'Liberation Sans'" font-weight="normal" >RD</text>
<text x="118.42" y="113.34" font-size="0.95" text-anchor="middle" fill="#fff" font-family="'Liberation Mono'" font-weight="normal" >0</text>
<text x="7.3" y="93.34" font-size="0.95" text-anchor="middle" fill="#fff" font-family="'Liberation Mono'" font-weight="normal" >0</text>
<text x="12.3" y="103.34" font-size="0.95" text-anchor="middle" fill="#fff" font-family="'Liberation Mono'" font-weight="normal" >0</text>
</g>
</g>
</svg>
</body></html>
